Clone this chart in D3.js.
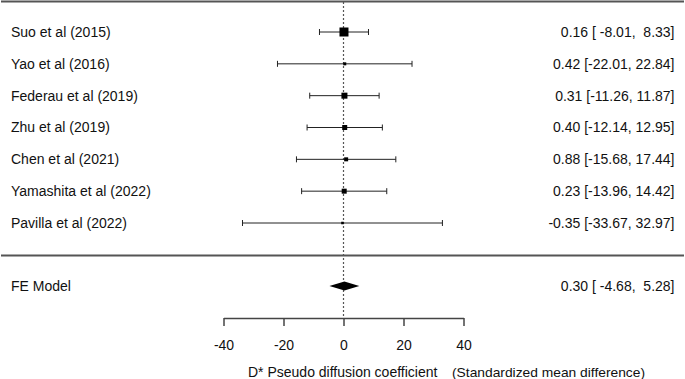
<!DOCTYPE html>
<html><head><meta charset="utf-8">
<script src="https://cdn.jsdelivr.net/npm/d3@7"></script>
<style>body{margin:0;background:#fff}svg{display:block}text{font-family:"Liberation Sans",Arial,sans-serif;fill:#111}</style>
</head><body><svg id="c" width="685" height="379"></svg>
<script>
const studies = ["Suo et al (2015)","Yao et al (2016)","Federau et al (2019)","Zhu et al (2019)","Chen et al (2021)","Yamashita et al (2022)","Pavilla et al (2022)"];
const estimates = [0.16,0.42,0.31,0.40,0.88,0.23,-0.35];
const lower = [-8.01,-22.01,-11.26,-12.14,-15.68,-13.96,-33.67];
const upper = [8.33,22.84,11.87,12.95,17.44,14.42,32.97];
const boxSizes = [9,3,6,5,4,5,2.5];
const feLabel = "FE Model";
const feEst = 0.30, feLow = -4.68, feUp = 5.28;
const ticks = [-40,-20,0,20,40];

const FS = 14;
const RX = 674.5;
const svg = d3.select("#c");
const x = d3.scaleLinear().domain([-40,40]).range([223.5,463.5]);
const y = d3.scaleLinear().domain([0,6]).range([32,223]);
const yFE = 286;
const fmt = v => (v<0?"-":"") + Math.abs(v).toFixed(2);
const pad = (s,n) => s.padStart(n," ");

// top and divider lines
svg.append("line").attr("x1",1).attr("x2",684).attr("y1",1.5).attr("y2",1.5).attr("stroke","#555").attr("stroke-width",2);
svg.append("line").attr("x1",1).attr("x2",684).attr("y1",255.5).attr("y2",255.5).attr("stroke","#555").attr("stroke-width",2);
// reference line
svg.append("line").attr("x1",x(0)).attr("x2",x(0)).attr("y1",2).attr("y2",318).attr("stroke","#555").attr("stroke-width",1.2).attr("stroke-dasharray","2,2");

studies.forEach((s,i)=>{
  const yy = y(i);
  svg.append("text").attr("x",11).attr("y",yy).attr("dy","0.35em").attr("font-size",FS).text(s);
  svg.append("line").attr("x1",x(lower[i])).attr("x2",x(upper[i])).attr("y1",yy).attr("y2",yy).attr("stroke","#222").attr("stroke-width",1);
  [lower[i],upper[i]].forEach(v=>svg.append("line").attr("x1",x(v)).attr("x2",x(v)).attr("y1",yy-3).attr("y2",yy+3).attr("stroke","#222"));
  const b = boxSizes[i];
  svg.append("rect").attr("x",x(estimates[i])-b/2).attr("y",yy-b/2).attr("width",b).attr("height",b).attr("fill","#000");
  const lab = fmt(estimates[i]) + " [" + pad(fmt(lower[i]),6) + ", " + pad(fmt(upper[i]),5) + "]";
  svg.append("text").attr("x",RX).attr("y",yy).attr("dy","0.35em").attr("font-size",FS).attr("text-anchor","end").style("white-space","pre").text(lab);
});

// FE model
svg.append("text").attr("x",11).attr("y",yFE).attr("dy","0.35em").attr("font-size",FS).text(feLabel);
svg.append("path").attr("d",`M${x(feLow)},${yFE}L${x(feEst)},${yFE-4.5}L${x(feUp)},${yFE}L${x(feEst)},${yFE+4.5}Z`).attr("fill","#000");
svg.append("text").attr("x",RX).attr("y",yFE).attr("dy","0.35em").attr("font-size",FS).attr("text-anchor","end").style("white-space","pre")
  .text(fmt(feEst)+" [" + pad(fmt(feLow),6) + ", " + pad(fmt(feUp),5) + "]");

// axis
const ax = svg.append("g").attr("transform","translate(0,318)").call(d3.axisBottom(x).tickValues(ticks).tickSize(8).tickSizeOuter(0).tickPadding(14).tickFormat(d => String(d)));
ax.select(".domain").attr("stroke","#444").attr("stroke-width",1.5);
ax.selectAll(".tick line").attr("stroke","#444").attr("stroke-width",1.5);
ax.selectAll("text").attr("font-size",FS).attr("font-family","Liberation Sans, Arial, sans-serif").attr("fill","#111");

svg.append("text").attr("x",248).attr("y",377).attr("font-size",FS).text("D* Pseudo diffusion coefficient");
svg.append("text").attr("x",452).attr("y",377).attr("font-size",13).attr("textLength",193).attr("lengthAdjust","spacingAndGlyphs").text("(Standardized mean difference)");
</script></body></html>
